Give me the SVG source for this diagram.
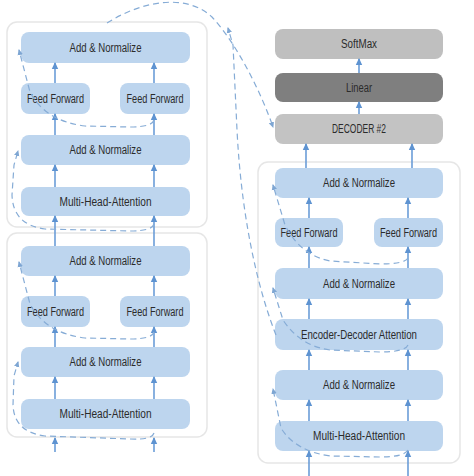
<svg xmlns="http://www.w3.org/2000/svg" width="474" height="476" viewBox="0 0 474 476">
<defs>
<marker id="ah" markerWidth="8" markerHeight="8" refX="6" refY="4" orient="auto" markerUnits="userSpaceOnUse"><path d="M0,0.8 L7,4 L0,7.2 Z" fill="#5e93d1"/></marker>
<marker id="dh" markerWidth="8" markerHeight="8" refX="5" refY="4" orient="auto" markerUnits="userSpaceOnUse"><path d="M0,1.3 L6,4 L0,6.7 Z" fill="#7ea6d3"/></marker>
<style>
.cont{fill:#ffffff;stroke:#e6e6e6;stroke-width:1.5}
.box{fill:#bdd5ee;stroke:none}
.g1{fill:#bfbfbf}
.g2{fill:#7f7f7f}
.g3{fill:#c3c3c3}
.t{font-family:"Liberation Sans",Arial,sans-serif;font-size:12px;fill:#2b2b2b;text-anchor:middle}
.arr{stroke:#6b9dd8;stroke-width:1.6;fill:none;marker-end:url(#ah)}
.dasha{stroke:#86acd6;stroke-width:1.2;fill:none;stroke-dasharray:6 4;marker-end:url(#dh)}
</style>
</defs>
<rect width="474" height="476" fill="#ffffff"/>
<g id="containers">
<rect class="cont" x="7" y="22" width="200" height="205" rx="10"/>
<rect class="cont" x="7" y="233" width="200" height="204" rx="10"/>
<rect class="cont" x="258" y="162" width="202" height="301" rx="10"/>
</g>
<g id="enc1-add-norm-top"><rect class="box" x="21" y="32" width="169" height="31" rx="8"/><text class="t" x="105.5" y="51.5" textLength="72" lengthAdjust="spacingAndGlyphs">Add &amp; Normalize</text></g>
<g id="enc1-ff-left"><rect class="box" x="21" y="83" width="69" height="31" rx="8"/><text class="t" x="55.5" y="102.5" textLength="57" lengthAdjust="spacingAndGlyphs">Feed Forward</text></g>
<g id="enc1-ff-right"><rect class="box" x="120" y="83" width="70" height="31" rx="8"/><text class="t" x="155" y="102.5" textLength="57" lengthAdjust="spacingAndGlyphs">Feed Forward</text></g>
<g id="enc1-add-norm-bottom"><rect class="box" x="21" y="135" width="169" height="30" rx="8"/><text class="t" x="105.5" y="154" textLength="72" lengthAdjust="spacingAndGlyphs">Add &amp; Normalize</text></g>
<g id="enc1-mha"><rect class="box" x="21" y="187" width="169" height="29" rx="8"/><text class="t" x="105.5" y="205.5" textLength="92" lengthAdjust="spacingAndGlyphs">Multi-Head-Attention</text></g>
<g id="enc0-add-norm-top"><rect class="box" x="21" y="246" width="169" height="30" rx="8"/><text class="t" x="105.5" y="265" textLength="72" lengthAdjust="spacingAndGlyphs">Add &amp; Normalize</text></g>
<g id="enc0-ff-left"><rect class="box" x="21" y="296" width="69" height="31" rx="8"/><text class="t" x="55.5" y="315.5" textLength="57" lengthAdjust="spacingAndGlyphs">Feed Forward</text></g>
<g id="enc0-ff-right"><rect class="box" x="120" y="296" width="70" height="31" rx="8"/><text class="t" x="155" y="315.5" textLength="57" lengthAdjust="spacingAndGlyphs">Feed Forward</text></g>
<g id="enc0-add-norm-bottom"><rect class="box" x="21" y="347" width="169" height="30" rx="8"/><text class="t" x="105.5" y="366" textLength="72" lengthAdjust="spacingAndGlyphs">Add &amp; Normalize</text></g>
<g id="enc0-mha"><rect class="box" x="21" y="399" width="169" height="30" rx="8"/><text class="t" x="105.5" y="418" textLength="92" lengthAdjust="spacingAndGlyphs">Multi-Head-Attention</text></g>
<g id="softmax"><rect class="g1" x="275" y="29" width="168" height="30" rx="8"/><text class="t" x="359" y="48" textLength="36" lengthAdjust="spacingAndGlyphs">SoftMax</text></g>
<g id="linear"><rect class="g2" x="275" y="73" width="168" height="29" rx="8"/><text class="t" x="359" y="91.5" textLength="26" lengthAdjust="spacingAndGlyphs">Linear</text></g>
<g id="decoder2"><rect class="g3" x="275" y="114" width="168" height="30" rx="8"/><text class="t" x="359" y="133" textLength="54" lengthAdjust="spacingAndGlyphs">DECODER #2</text></g>
<g id="dec-add-norm-top"><rect class="box" x="275" y="168" width="168" height="30" rx="8"/><text class="t" x="359" y="187" textLength="72" lengthAdjust="spacingAndGlyphs">Add &amp; Normalize</text></g>
<g id="dec-ff-left"><rect class="box" x="275" y="218" width="68" height="29" rx="8"/><text class="t" x="309" y="236.5" textLength="57" lengthAdjust="spacingAndGlyphs">Feed Forward</text></g>
<g id="dec-ff-right"><rect class="box" x="374" y="218" width="69" height="29" rx="8"/><text class="t" x="408.5" y="236.5" textLength="57" lengthAdjust="spacingAndGlyphs">Feed Forward</text></g>
<g id="dec-add-norm-mid"><rect class="box" x="275" y="268" width="168" height="31" rx="8"/><text class="t" x="359" y="287.5" textLength="72" lengthAdjust="spacingAndGlyphs">Add &amp; Normalize</text></g>
<g id="dec-enc-dec-att"><rect class="box" x="275" y="319" width="168" height="31" rx="8"/><text class="t" x="359" y="338.5" textLength="116" lengthAdjust="spacingAndGlyphs">Encoder-Decoder Attention</text></g>
<g id="dec-add-norm-bottom"><rect class="box" x="275" y="370" width="168" height="30" rx="8"/><text class="t" x="359" y="389" textLength="72" lengthAdjust="spacingAndGlyphs">Add &amp; Normalize</text></g>
<g id="dec-mha"><rect class="box" x="275" y="421" width="168" height="30" rx="8"/><text class="t" x="359" y="440" textLength="92" lengthAdjust="spacingAndGlyphs">Multi-Head-Attention</text></g>
<g id="connectors">
<path class="arr" d="M55,187 V165"/><path class="arr" d="M154,187 V165"/>
<path class="arr" d="M55,135 V114"/><path class="arr" d="M154,135 V114"/>
<path class="arr" d="M55,83 V63"/><path class="arr" d="M154,83 V63"/>
<path class="arr" d="M55,246 V216"/><path class="arr" d="M154,246 V216"/>
<path class="arr" d="M55,399 V377"/><path class="arr" d="M154,399 V377"/>
<path class="arr" d="M55,347 V327"/><path class="arr" d="M154,347 V327"/>
<path class="arr" d="M55,296 V276"/><path class="arr" d="M154,296 V276"/>
<path class="arr" d="M55,452 V438"/><path class="arr" d="M154,452 V438"/>
<path class="arr" d="M359,73 V59"/><path class="arr" d="M359,114 V102"/>
<path class="arr" d="M306,168 V144"/><path class="arr" d="M412,168 V144"/>
<path class="arr" d="M309,218 V198"/><path class="arr" d="M408,218 V198"/>
<path class="arr" d="M309,268 V247"/><path class="arr" d="M408,268 V247"/>
<path class="arr" d="M309,319 V299"/><path class="arr" d="M408,319 V299"/>
<path class="arr" d="M309,370 V350"/><path class="arr" d="M408,370 V350"/>
<path class="arr" d="M309,421 V400"/><path class="arr" d="M408,421 V400"/>
<path class="arr" d="M309,476 V451"/><path class="arr" d="M408,476 V451"/>
<path class="dasha" d="M154,120 Q152,127 130,127 L85,126 Q45,121 30,92 L19,50"/>
<path class="dasha" d="M154,224 Q152,231 130,231 L45,229 Q13,225 12,195 L14,165 L18,151"/>
<path class="dasha" d="M154,332 Q152,339 130,339 L85,338 Q45,333 30,304 L19,262"/>
<path class="dasha" d="M154,433 Q152,440 130,439 L45,436 Q14,432 13,405 L14,376 L18,362"/>
<path class="dasha" d="M408,258 Q405,264 380,264 L330,261 Q300,255 285,225 L273,185"/>
<path class="dasha" d="M408,345 Q405,352 380,352 L330,350 Q300,346 283,320 L273,288"/>
<path class="dasha" d="M408,450 Q404,457 380,457 L330,456 Q295,451 281,428 L273,389"/>
<path class="dasha" d="M107,23 C140,2 185,-8 212,17 C238,45 262,95 273,127"/>
<path class="dasha" d="M276,335 C262,300 242,230 237,130 L233,45 L228,28"/>
</g>
</svg>
